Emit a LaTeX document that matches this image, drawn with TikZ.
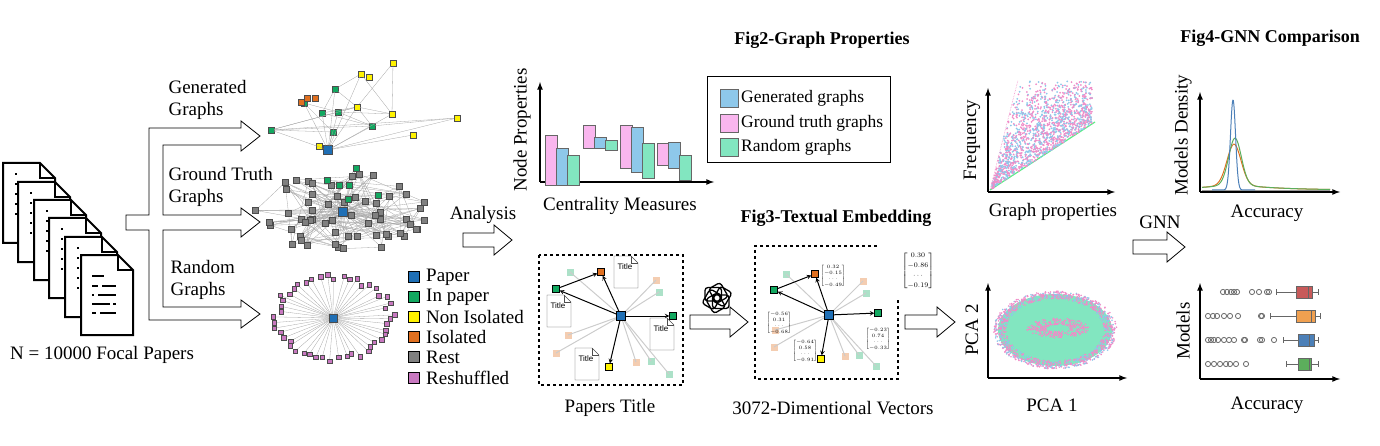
\documentclass[tikz,border=0pt]{standalone}
\usepackage{fontspec,amsmath}
\setmainfont{Liberation Serif}
\newfontfamily\sansf{Liberation Sans}
\definecolor{cpaper}{HTML}{1F6FB5}
\definecolor{cin}{HTML}{12A860}
\definecolor{cnon}{HTML}{FFF200}
\definecolor{ciso}{HTML}{E07020}
\definecolor{crest}{HTML}{808080}
\definecolor{cres}{HTML}{C878C0}
\definecolor{lblue}{HTML}{8EC8EA}
\definecolor{lpink}{HTML}{F9B6EE}
\definecolor{lmint}{HTML}{82E6C0}
\definecolor{dpink}{HTML}{F08CC8}
\definecolor{bred}{HTML}{C85A5A}
\definecolor{borg}{HTML}{F0A050}
\definecolor{bblu}{HTML}{4C80B8}
\definecolor{bgrn}{HTML}{5CAE5C}
\newcommand\harrow[3]{\draw[thick,fill=white] (#1,#3-7) -- (#2-18,#3-7) -- (#2-18,#3-15) -- (#2,#3) -- (#2-18,#3+15) -- (#2-18,#3+7) -- (#1,#3+7) -- cycle;}
\newcommand\docshape[2]{\draw[line width=2pt,fill=white] (#1,#2) -- (#1+37,#2) -- (#1+52,#2+15) -- (#1+52,#2+80) -- (#1,#2+80) -- cycle; \draw[line width=2pt] (#1+37,#2)--(#1+37,#2+15)--(#1+52,#2+15); \foreach \k in {0,...,4}{\fill (#1+12,#2+10+\k*10) rectangle (#1+14,#2+12+\k*10);}}
\newcommand\tdoc[2]{\draw[fill=white,draw=black!70] (#1,#2) -- (#1+17,#2) -- (#1+24,#2+7) -- (#1+24,#2+32) -- (#1,#2+32) -- cycle; \draw[draw=black!70] (#1+17,#2)--(#1+17,#2+7)--(#1+24,#2+7); \node[font=\sansf\fontsize{8}{9}\selectfont] at (#1+11,#2+11) {Title};}
\tikzset{
 lbl/.style={font=\fontsize{19}{22}\selectfont},
 ttl/.style={font=\bfseries\fontsize{18}{20}\selectfont},
 sq/.style={draw=black!70,line width=0.3pt,minimum size=6pt,inner sep=0pt,fill=#1},
 bsq/.style={draw=black,minimum size=11pt,inner sep=0pt,fill=#1},
 ax/.style={line width=1.6pt,-latex},
 ed/.style={draw=black!35,line width=0.3pt},
 faded/.style={minimum size=7pt,inner sep=0pt,fill=#1,opacity=0.35},
 tiny/.style={font=\fontsize{4.5}{5}\selectfont,inner sep=0pt},
}
\begin{document}
\begin{tikzpicture}[x=1pt,y=-1pt]
\useasboundingbox (0,0) rectangle (1380,446);
% documents
\foreach \x/\y in {3/163,18/182,34/200,49/218,65/237}{\docshape{\x}{\y}}
\draw[line width=2pt,fill=white] (81,255) -- (118,255) -- (133,270) -- (133,335) -- (81,335) -- cycle; \draw[line width=2pt] (118,255)--(118,270)--(133,270);
\draw[line width=1.6pt] (92,276)--(104,276) (92,286)--(98,286) (102,286)--(116,286) (92,295)--(94,295) (98,295)--(116,295) (92,304)--(110,304) (113,304)--(116,304) (92,313)--(96,313) (100,313)--(116,313);
\node[lbl] (np) at (102,355) {N = 10000 Focal Papers};
% fork arrow
\draw[thick,fill=white] (126,215) -- (149,215) -- (149,128) -- (241,128) -- (241,121) -- (260,136) -- (241,151) -- (241,145)-- (163,145) -- (163,215) -- (241,215) -- (241,208) -- (260,222) -- (241,237) -- (241,230) -- (163,230) -- (163,307) -- (241,307) -- (241,300) -- (260,314) -- (241,328) -- (241,320) -- (149,320) -- (149,230) -- (126,230) -- cycle;
\node[lbl,align=left,anchor=west] at (165,100) {Generated\\Graphs};
\node[lbl,align=left,anchor=west] at (165,187) {Ground Truth\\Graphs};
\node[lbl,align=left,anchor=west] at (167,280) {Random\\Graphs};
% generated graph
\node[sq=cpaper,minimum size=9pt] (g0) at (328,150) {};
\foreach \n/\x/\y/\c in {1/271/130/cin,2/304/103/cin,3/322/113/cin,4/335/89/cin,5/338/112/cin,6/333/132/cin,7/372/126/cin,8/319/146/cnon,9/361/74/cnon,10/369/77/cnon,11/393/63/cnon,12/357/107/cnon,13/392/114/cnon,14/457/118/cnon,15/413/135/cnon,16/301/102/ciso,17/307/98/ciso,18/315/98/ciso}{\node[sq=\c] (g\n) at (\x,\y) {};}
\foreach \a/\b in {0/1,0/2,0/3,0/4,0/5,0/6,0/7,0/12,0/13,0/14,0/15,0/9,1/5,1/6,1/7,1/12,2/5,3/4,3/12,4/9,4/12,5/12,5/13,7/14,7/12,9/13,11/12,11/13,12/13,5/7,6/2,3/7,1/14}{\draw[ed] (g\a)--(g\b);}
% ground truth graph
\pgfmathsetseed{7}
\foreach \i in {1,...,60}{
 \pgfmathsetmacro\ang{rnd*360}\pgfmathsetmacro\rr{sqrt(rnd)}
 \coordinate (t\i) at ({342+88*\rr*cos(\ang)},{212+40*\rr*sin(\ang)});}
\coordinate (t0) at (343,212);
\foreach \n/\x/\y in {61/327/180,62/356/168,63/339/185,64/349/185,65/378/195,66/348/199}{\coordinate (t\n) at (\x,\y);}
\foreach \i in {1,...,66}{\draw[ed] (t0)--(t\i);}
\foreach \i in {1,...,60}{\pgfmathtruncatemacro\j{1+mod(\i*7,66)}\pgfmathtruncatemacro\k{1+mod(\i*13,66)}\draw[ed] (t\i)--(t\j) (t\i)--(t\k);}
\foreach \i in {1,...,60}{\node[sq=crest] at (t\i) {};}
\node[sq=cpaper,minimum size=9pt] at (t0) {};
\foreach \n in {61,...,66}{\node[sq=cin] at (t\n) {};}
% random graph
\coordinate (r0) at (333,318);
\foreach \i in {1,...,48}{\pgfmathsetmacro\ang{\i*7.5+rnd*4}\pgfmathsetmacro\rf{0.85+0.15*rnd}
 \coordinate (r\i) at ({333+62*\rf*cos(\ang)},{318+44*\rf*sin(\ang)});
 \draw[ed] (r0)--(r\i);}
\foreach \i in {1,...,48}{\node[sq=cres,minimum size=4.5pt] at (r\i) {};}
\node[sq=cpaper,minimum size=8pt] at (r0) {};
% legend
\foreach \y/\c/\t in {277/cpaper/Paper,297/cin/In paper,317/cnon/Non Isolated,337/ciso/Isolated,357/crest/Rest,378/cres/Reshuffled}{
 \node[bsq=\c] (l\y) at (414,\y) {};
 \node[lbl,anchor=west,inner xsep=2pt] at (424,\y) {\t};}
% analysis
\node[lbl] at (483,215) {Analysis};
\harrow{463}{512}{240}
% Fig2
\node[ttl] at (822,40) {Fig2-Graph Properties};
\draw[ax] (540,182)--(540,82);
\draw[ax] (540,182)--(714,182);
\node[lbl,rotate=90] at (522,130) {Node Properties};
\node[lbl] at (620,206) {Centrality Measures};
\foreach \x/\pt/\pb/\bt/\bb/\gt/\gb in {545/135/185/148/185/155/185,583/125/148/137/148/140/150,620/125/168/127/172/143/178,657/143/165/142/168/155/180}{
 \draw[fill=lpink,draw=black!60,line width=0.4pt] (\x,\pt) rectangle (\x+12,\pb);
 \draw[fill=lblue,draw=black!60,line width=0.4pt] (\x+11,\bt) rectangle (\x+23,\bb);
 \draw[fill=lmint,draw=black!60,line width=0.4pt] (\x+22,\gt) rectangle (\x+34,\gb);}
\draw[line width=0.6pt] (707,76) rectangle (890,162);
\foreach \y/\c/\t in {98/lblue/Generated graphs,123/lpink/Ground truth graphs,147/lmint/Random graphs}{
 \draw[fill=\c,draw=black!60] (720,\y-9) rectangle (738,\y+9);
 \node[font=\fontsize{17.5}{20}\selectfont,anchor=west,inner xsep=2pt] at (739,\y) {\t};}
% Papers title box
\draw[line width=1.6pt,dashed] (539,255) rectangle (683,385);
\node[lbl] at (610,408) {Papers Title};
\foreach \x/\y/\c in {570/272/cin,656/280/ciso,659/292/cin,568/335/ciso,556/353/ciso,636/362/ciso,651/361/cin,669/374/cin}{\node[faded=\c] at (\x,\y) {};}
\foreach \x/\y in {570/272,656/280,659/292,568/335,556/353,636/362,651/361,669/374}{\draw[black!20,line width=1pt] (621,316)--(\x,\y);}
\node[sq=cpaper,minimum size=9pt,draw=black] (pc) at (621,316) {};
\node[sq=cin,minimum size=7pt,draw=black] (p1) at (556,289) {};
\node[sq=ciso,minimum size=7pt,draw=black] (p2) at (601,272) {};
\node[sq=cin,minimum size=7pt,draw=black] (p3) at (673,316) {};
\node[sq=cnon,minimum size=7pt,draw=black] (p4) at (609,367) {};
\draw[-stealth,line width=1pt] (pc)--(p1);\draw[-stealth,line width=1pt] (pc)--(p2);\draw[-stealth,line width=1pt] (pc)--(p3);\draw[-stealth,line width=1pt] (pc)--(p4);\draw[-stealth,line width=1pt] (p1)--(p2);
\tdoc{614}{256}\tdoc{547}{295}\tdoc{650}{318}\tdoc{575}{348}
% openai logo
\begin{scope}[shift={(717,298)},scale=1.5]
\foreach \a in {0,60,...,300}{\draw[line width=1.3pt,rotate=\a,rounded corners=3pt] (-3,-2) rectangle (8,7);}
\end{scope}
\harrow{690}{748}{322}
% Embedding box
\node[ttl] at (836,218) {Fig3-Textual Embedding};
\draw[line width=1.6pt,dashed] (877,246)--(755,246)--(755,379)--(898,379)--(898,299);
\node[lbl] at (833,408) {3072-Dimentional Vectors};
\foreach \x/\y/\c in {786/274/cin,863/281/ciso,866/293/cin,775/330/ciso,774/347/ciso,845/356/ciso,859/355/cin,876/366/cin}{\node[faded=\c] at (\x,\y) {};}
\foreach \x/\y in {786/274,863/281,866/293,775/330,774/347,845/356,859/355,876/366}{\draw[black!20,line width=1pt] (829,315)--(\x,\y);}
\node[sq=cpaper,minimum size=9pt,draw=black] (ec) at (829,315) {};
\node[sq=cin,minimum size=7pt,draw=black] (e1) at (774,290) {};
\node[sq=ciso,minimum size=7pt,draw=black] (e2) at (815,274) {};
\node[sq=cin,minimum size=7pt,draw=black] (e3) at (878,313) {};
\node[sq=cnon,minimum size=7pt,draw=black] (e4) at (821,359) {};
\draw[-stealth,line width=1pt] (ec)--(e1);\draw[-stealth,line width=1pt] (ec)--(e2);\draw[-stealth,line width=1pt] (ec)--(e3);\draw[-stealth,line width=1pt] (ec)--(e4);\draw[-stealth,line width=1pt] (e1)--(e2);
\node[tiny] at (833,276) {$\begin{bmatrix}0.32\\[1pt]-0.15\\[1pt]\cdots\\[1pt]-0.49\end{bmatrix}$};
\node[tiny] at (779,323) {$\begin{bmatrix}-0.56\\[1pt]0.31\\[1pt]\cdots\\[1pt]-0.68\end{bmatrix}$};
\node[tiny] at (805,351) {$\begin{bmatrix}-0.64\\[1pt]0.58\\[1pt]\cdots\\[1pt]-0.91\end{bmatrix}$};
\node[tiny] at (878,339) {$\begin{bmatrix}-0.23\\[1pt]0.74\\[1pt]\cdots\\[1pt]-0.33\end{bmatrix}$};
\node[font=\fontsize{7.5}{8}\selectfont,inner sep=0pt] at (918,271) {$\begin{bmatrix}0.30\\[2pt]-0.86\\[2pt]\cdots\\[2pt]-0.19\end{bmatrix}$};
\harrow{905}{955}{322}
% Frequency plot
\draw[ax] (988,192)--(988,88);
\draw[ax] (988,192)--(1115,192);
\node[lbl,rotate=90] at (972,140) {Frequency};
\node[lbl] at (1053,212) {Graph properties};
\draw[dpink,densely dotted,line width=0.6pt] (990,190)--(1018,80);
\draw[lmint!70!green,line width=1.2pt] (990,190)--(1095,122);
\foreach \i in {1,...,1600}{
 \pgfmathsetmacro\xx{992+rnd*100}
 \pgfmathsetmacro\yt{max(80,190-(\xx-990)*110/28)}
 \pgfmathsetmacro\yb{190-(\xx-990)*68/105}
 \pgfmathsetmacro\yy{\yt+(rnd^0.6)*(\yb-\yt)}
 \pgfmathsetmacro\cc{rnd}
 \ifdim\cc pt<0.55pt \fill[dpink] (\xx,\yy) circle (1);\else\fill[lblue] (\xx,\yy) circle (1);\fi}
% PCA plot
\draw[ax] (988,378)--(988,283);
\draw[ax] (988,378)--(1127,378);
\node[lbl,rotate=90] at (972,330) {PCA 2};
\node[lbl] at (1052,405) {PCA 1};
\fill[lmint] (1055,330) ellipse (57 and 36);
\foreach \i in {1,...,1100}{
 \pgfmathsetmacro\ang{rnd*360}\pgfmathsetmacro\rf{0.86+0.22*rnd}
 \pgfmathsetmacro\cc{rnd}
 \ifdim\cc pt<0.7pt \fill[dpink] ({1055+57*\rf*cos(\ang)},{330+36*\rf*sin(\ang)}) circle (0.9);\else\fill[lblue] ({1055+57*\rf*cos(\ang)},{330+36*\rf*sin(\ang)}) circle (0.9);\fi}
\foreach \i in {1,...,300}{
 \pgfmathsetmacro\ang{rnd*360}\pgfmathsetmacro\rf{0.2+0.35*rnd}
 \fill[dpink] ({1058+57*\rf*cos(\ang)},{328+36*\rf*sin(\ang)*0.5}) circle (0.9);}
% GNN
\node[lbl] at (1160,222) {GNN};
\harrow{1133}{1185}{247}
% Fig4
\node[ttl] at (1270,38) {Fig4-GNN Comparison};
\draw[ax] (1200,192)--(1200,92);
\draw[ax] (1200,192)--(1340,192);
\node[lbl,rotate=90] at (1183,135) {Models Density};
\node[lbl] at (1267,213) {Accuracy};
\draw[black!40,line width=0.5pt] (1202,190)--(1330,190);
\draw[ciso,line width=1pt,domain=1202:1330,samples=90,smooth] plot (\x,{190-40*exp(-((\x-1234)/10)^2)-6*exp(-abs(\x-1234)/40)});
\draw[bgrn,line width=1pt,domain=1202:1330,samples=90,smooth] plot (\x,{190-46*exp(-((\x-1235)/9)^2)-6*exp(-abs(\x-1235)/40)});
\draw[bblu,line width=1pt,domain=1212:1255,samples=90,smooth] plot (\x,{190-90*exp(-((\x-1233)/3.6)^2)});
% boxplot
\draw[ax] (1200,379)--(1200,283);
\draw[ax] (1200,379)--(1340,379);
\node[lbl,rotate=90] at (1183,331) {Models};
\node[lbl] at (1267,405) {Accuracy};
\foreach \y/\c/\wl/\bl/\md/\br/\wr/\pts in {
 292/bred/1276/1296/1308/1312/1318/{1223,1227,1231,1234,1237,1252,1259,1267,1269},
 316/borg/1270/1296/1311/1315/1320/{1208,1213,1217,1224,1230,1238,1261,1262},
 340/bblu/1283/1298/1309/1314/1318/{1208,1211,1214,1218,1224,1229,1234,1244,1245,1260,1262,1274},
 364/bgrn/1286/1298/1309/1311/1318/{1208,1214,1220,1226,1230,1236,1246}}{
 \foreach \p in \pts {\draw[black!60,line width=0.8pt] (\p,\y) circle (2.6);}
 \draw[black!60,line width=0.6pt] (\wl,\y)--(\bl,\y) (\br,\y)--(\wr,\y) (\wl,\y-3)--(\wl,\y+3) (\wr,\y-3)--(\wr,\y+3);
 \draw[fill=\c,draw=black!60,line width=0.5pt] (\bl,\y-6) rectangle (\br,\y+6);
 \draw[black!60] (\md,\y-6)--(\md,\y+6);}
\end{tikzpicture}
\end{document}
